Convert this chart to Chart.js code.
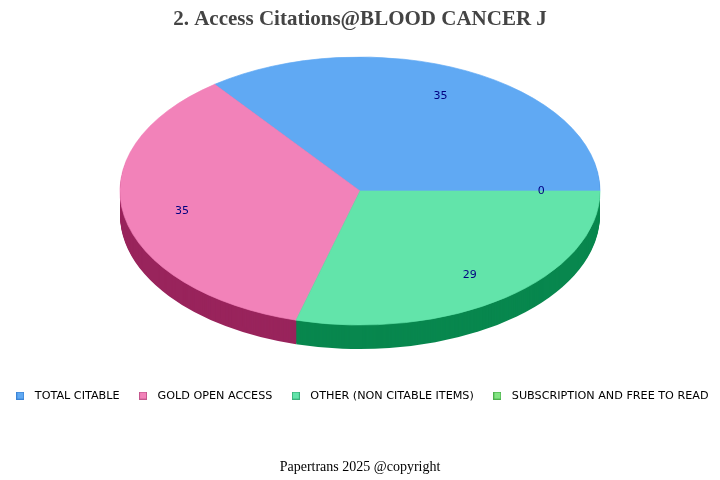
<!DOCTYPE html>
<html><head><meta charset="utf-8">
<script src="https://cdn.jsdelivr.net/npm/chart.js@4"></script>
<style>html,body{margin:0;padding:0;background:#fff}</style>
</head><body>
<canvas id="c" width="720" height="480"></canvas>
<script>
const categories = ['TOTAL CITABLE', 'GOLD OPEN ACCESS', 'OTHER (NON CITABLE ITEMS)', 'SUBSCRIPTION AND FREE TO READ'];
const values = [35, 35, 29, 0];
const topColors = ['#60A9F3', '#F282B9', '#62E4AA', '#82E482'];
const sideColors = ['#2E6FB5', '#99245C', '#08874E', '#3FA33F'];
const legendBorders = ['#3C84D6', '#C4588E', '#3CB07C', '#4CB04C'];
const titleText = '2. Access Citations@BLOOD CANCER J';
const footerText = 'Papertrans 2025 @copyright';

function legendSwatch(fill, stroke) {
  const c = document.createElement('canvas');
  c.width = 8; c.height = 8;
  const g = c.getContext('2d');
  g.fillStyle = fill; g.fillRect(0, 0, 8, 8);
  g.strokeStyle = stroke; g.lineWidth = 1; g.strokeRect(0.5, 0.5, 7, 7);
  return c;
}
const swatches = topColors.map((c, i) => legendSwatch(c, legendBorders[i]));

const pie3d = {
  id: 'pie3d',
  beforeDatasetsDraw(chart, args, opts) {
    const arcs = chart.getDatasetMeta(0).data;
    if (!arcs.length) return;
    const a0 = arcs[0];
    const R = a0.outerRadius, cx = a0.x, cy = a0.y;
    const ctx = chart.ctx;
    const sx = opts.rx / R, sy = opts.ry / R;
    for (let k = opts.depth; k >= 1; k--) {
      ctx.save();
      ctx.translate(opts.cx, opts.cy + k);
      ctx.scale(sx, -sy);
      arcs.forEach((arc, i) => {
        if (arc.endAngle - arc.startAngle <= 0) return;
        ctx.beginPath();
        ctx.moveTo(0, 0);
        ctx.arc(0, 0, R, arc.startAngle, arc.endAngle);
        ctx.closePath();
        ctx.fillStyle = sideColors[i];
        ctx.fill();
      });
      ctx.restore();
    }
    ctx.save();
    ctx.translate(opts.cx, opts.cy);
    ctx.scale(sx, -sy);
    ctx.translate(-cx, -cy);
  },
  afterDatasetsDraw(chart, args, opts) {
    const ctx = chart.ctx;
    ctx.restore();
    const arcs = chart.getDatasetMeta(0).data;
    ctx.save();
    ctx.font = '11px "DejaVu Sans"';
    ctx.fillStyle = '#000080';
    ctx.textAlign = 'center';
    ctx.textBaseline = 'middle';
    arcs.forEach((arc, i) => {
      const mid = (arc.startAngle + arc.endAngle) / 2;
      const x = opts.cx + Math.cos(mid) * opts.lrx * opts.rx;
      const y = opts.cy - Math.sin(mid) * opts.lry * opts.ry;
      ctx.fillText(String(values[i]), x, y);
    });
    ctx.restore();
  }
};

new Chart(document.getElementById('c'), {
  type: 'pie',
  data: {
    labels: categories,
    datasets: [{
      data: values,
      backgroundColor: topColors,
      borderColor: topColors,
      borderWidth: 0.6
    }]
  },
  options: {
    responsive: false,
    animation: false,
    devicePixelRatio: 1,
    rotation: 90,
    layout: { padding: { left: -20, right: -20, top: 0, bottom: 0 } },
    plugins: {
      pie3d: { cx: 360, cy: 191, rx: 240, ry: 134, depth: 24, lrx: 0.755, lry: 0.79 },
      tooltip: { enabled: false },
      title: {
        display: true,
        text: titleText,
        color: '#444444',
        font: { family: '"Liberation Serif"', size: 21, weight: 'bold' },
        padding: { top: 7, bottom: 10 }
      },
      subtitle: {
        display: true,
        position: 'bottom',
        text: footerText,
        color: '#000000',
        font: { family: '"Liberation Serif"', size: 14 },
        padding: { top: 48, bottom: 4 }
      },
      legend: {
        position: 'bottom',
        labels: {
          usePointStyle: true,
          pointStyleWidth: 17.8,
          boxHeight: 8,
          padding: 14.6,
          color: '#000000',
          font: { family: '"DejaVu Sans"', size: 11.2 },
          generateLabels(chart) {
            const items = Chart.overrides.pie.plugins.legend.labels.generateLabels(chart);
            items.forEach((it, i) => { it.pointStyle = swatches[i]; });
            return items;
          }
        }
      }
    }
  },
  plugins: [pie3d]
});
</script>
</body></html>
